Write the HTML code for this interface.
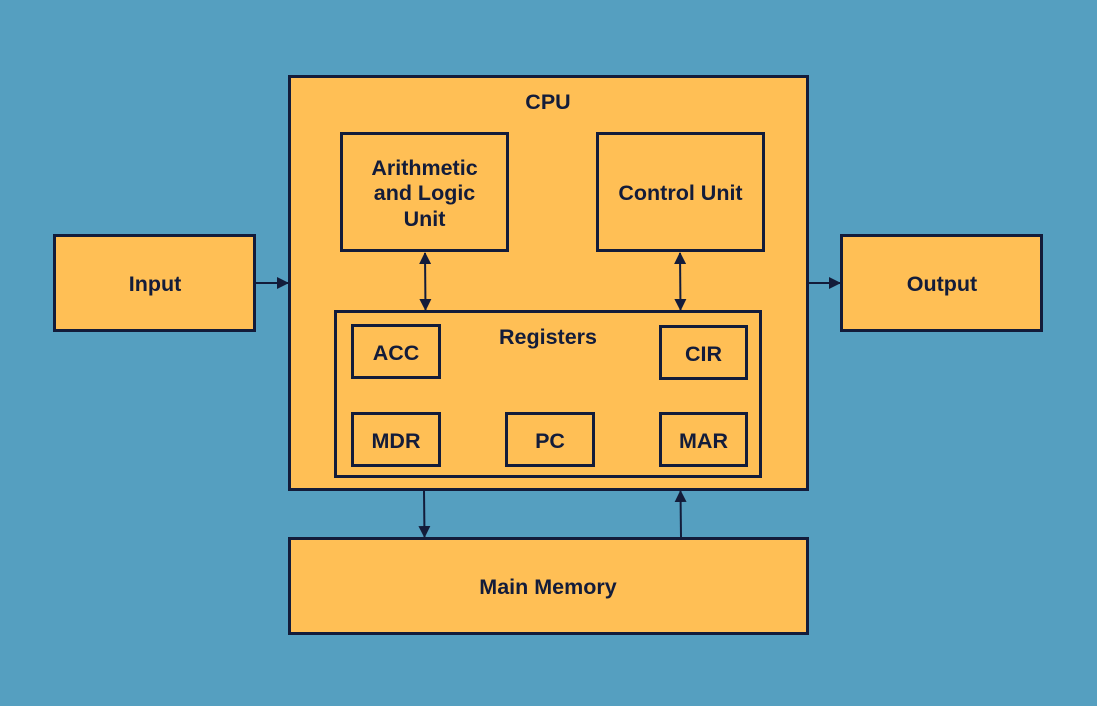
<!DOCTYPE html>
<html><head><style>body{margin:0;background:#559fc0}svg{display:block}</style></head><body>
<svg width="1097" height="706" viewBox="0 0 1097 706" xmlns="http://www.w3.org/2000/svg">
<defs><marker id="a" markerWidth="12" markerHeight="12" refX="11" refY="6" orient="auto-start-reverse" markerUnits="userSpaceOnUse"><path d="M0,0 L12,6 L0,12 Z" fill="#131c3a"/></marker></defs>
<rect width="1097" height="706" fill="#559fc0"/>
<g fill="#ffbf55" stroke="#131c3a" stroke-width="3">
<rect x="289.5" y="76.5" width="518" height="413"/>
<rect x="341.5" y="133.5" width="166" height="117"/>
<rect x="597.5" y="133.5" width="166" height="117"/>
<rect x="335.5" y="311.5" width="425" height="165"/>
<rect x="352.5" y="325.5" width="87" height="52"/>
<rect x="660.5" y="326.5" width="86" height="52"/>
<rect x="352.5" y="413.5" width="87" height="52"/>
<rect x="506.5" y="413.5" width="87" height="52"/>
<rect x="660.5" y="413.5" width="86" height="52"/>
<rect x="54.5" y="235.5" width="200" height="95"/>
<rect x="841.5" y="235.5" width="200" height="95"/>
<rect x="289.5" y="538.5" width="518" height="95"/>
</g>
<g stroke="#131c3a" stroke-width="2" fill="none">
<line x1="256" y1="283" x2="288" y2="283" marker-end="url(#a)"/>
<line x1="809" y1="283" x2="840" y2="283" marker-end="url(#a)"/>
<line x1="425" y1="253" x2="425.5" y2="310" marker-start="url(#a)" marker-end="url(#a)"/>
<line x1="680" y1="253" x2="680.5" y2="310" marker-start="url(#a)" marker-end="url(#a)"/>
<line x1="424" y1="491" x2="424.5" y2="537" marker-end="url(#a)"/>
<line x1="681" y1="537" x2="680.5" y2="491" marker-end="url(#a)"/>
</g>
<g font-family="Liberation Sans, sans-serif" font-weight="bold" font-size="21.5" fill="#131c3a" text-anchor="middle">
<text x="548" y="109">CPU</text>
<text x="424.5" y="175">Arithmetic</text>
<text x="424.5" y="200">and Logic</text>
<text x="424.5" y="226">Unit</text>
<text x="680.5" y="200">Control Unit</text>
<text x="548" y="344">Registers</text>
<text x="396" y="360">ACC</text>
<text x="703.5" y="361">CIR</text>
<text x="396" y="448">MDR</text>
<text x="550" y="448">PC</text>
<text x="703.5" y="448">MAR</text>
<text x="155" y="291">Input</text>
<text x="942" y="291">Output</text>
<text x="548" y="594">Main Memory</text>
</g>
</svg>
</body></html>
